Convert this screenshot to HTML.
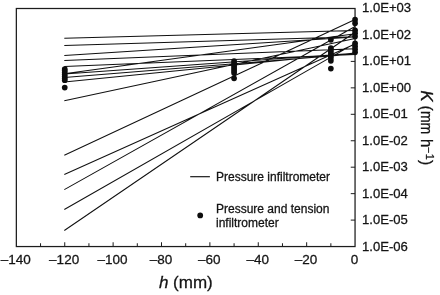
<!DOCTYPE html><html><head><meta charset="utf-8"><title>K vs h</title>
<style>html,body{margin:0;padding:0;background:#fff}svg{display:block}text{font-family:"Liberation Sans",Arial,Helvetica,sans-serif;fill:#141414;stroke:#141414;stroke-width:0.28px}</style></head><body>
<svg width="440" height="295" viewBox="0 0 440 295">
<rect width="440" height="295" fill="#fff"/>
<rect x="16.35" y="8.5" width="338.70" height="238.05" fill="none" stroke="#1c1c1c" stroke-width="1.25"/>
<path d="M40.54 246.55 v-3.3 M64.74 246.55 v-4.3 M88.93 246.55 v-3.3 M113.12 246.55 v-4.3 M137.31 246.55 v-3.3 M161.51 246.55 v-4.3 M185.70 246.55 v-3.3 M209.89 246.55 v-4.3 M234.09 246.55 v-3.3 M258.28 246.55 v-4.3 M282.47 246.55 v-3.3 M306.66 246.55 v-4.3 M330.86 246.55 v-3.3 M355.05 34.95 h-4.3 M355.05 61.40 h-4.3 M355.05 87.85 h-4.3 M355.05 114.30 h-4.3 M355.05 140.75 h-4.3 M355.05 167.20 h-4.3 M355.05 193.65 h-4.3 M355.05 220.10 h-4.3" stroke="#1c1c1c" stroke-width="1" fill="none"/>
<path d="M64.30 38.25 L355.05 30.5 M64.30 45.5 L355.05 36.8 M64.30 55.5 L355.05 37.1 M64.30 60.5 L355.05 48.8 M64.30 66.4 L355.05 54.5 M64.30 73.8 L355.05 33.7 M64.30 74.0 L355.05 53.2 M64.30 77.6 L355.05 54.0 M64.30 82.0 L355.05 52.9 M64.30 100.8 L355.05 38.6 M64.30 155.25 L355.05 19.5 M64.30 174.5 L355.05 44.1 M64.30 189.6 L355.05 26.5 M64.30 209.5 L355.05 43.4 M64.30 230.5 L355.05 32.3" stroke="#111" stroke-width="1.05" fill="none"/>
<circle cx="64.74" cy="69.1" r="2.85" fill="#0d0d0d"/>
<circle cx="64.74" cy="70.5" r="2.85" fill="#0d0d0d"/>
<circle cx="64.74" cy="72.5" r="2.85" fill="#0d0d0d"/>
<circle cx="64.74" cy="74.5" r="2.85" fill="#0d0d0d"/>
<circle cx="64.74" cy="76.5" r="2.85" fill="#0d0d0d"/>
<circle cx="64.74" cy="78.5" r="2.85" fill="#0d0d0d"/>
<circle cx="64.74" cy="80.2" r="2.85" fill="#0d0d0d"/>
<circle cx="64.74" cy="87.6" r="2.85" fill="#0d0d0d"/>
<circle cx="234.09" cy="61.1" r="2.85" fill="#0d0d0d"/>
<circle cx="234.09" cy="63" r="2.85" fill="#0d0d0d"/>
<circle cx="234.09" cy="65" r="2.85" fill="#0d0d0d"/>
<circle cx="234.09" cy="67" r="2.85" fill="#0d0d0d"/>
<circle cx="234.09" cy="69" r="2.85" fill="#0d0d0d"/>
<circle cx="234.09" cy="71" r="2.85" fill="#0d0d0d"/>
<circle cx="234.09" cy="73.1" r="2.85" fill="#0d0d0d"/>
<circle cx="234.09" cy="78.3" r="2.85" fill="#0d0d0d"/>
<circle cx="330.86" cy="39.8" r="2.85" fill="#0d0d0d"/>
<circle cx="330.86" cy="48.2" r="2.85" fill="#0d0d0d"/>
<circle cx="330.86" cy="50" r="2.85" fill="#0d0d0d"/>
<circle cx="330.86" cy="52" r="2.85" fill="#0d0d0d"/>
<circle cx="330.86" cy="54" r="2.85" fill="#0d0d0d"/>
<circle cx="330.86" cy="56" r="2.85" fill="#0d0d0d"/>
<circle cx="330.86" cy="58" r="2.85" fill="#0d0d0d"/>
<circle cx="330.86" cy="60.8" r="2.85" fill="#0d0d0d"/>
<circle cx="330.86" cy="68.6" r="2.85" fill="#0d0d0d"/>
<circle cx="355.05" cy="19.7" r="2.85" fill="#0d0d0d"/>
<circle cx="355.05" cy="23.2" r="2.85" fill="#0d0d0d"/>
<circle cx="355.05" cy="30.3" r="2.85" fill="#0d0d0d"/>
<circle cx="355.05" cy="33.2" r="2.85" fill="#0d0d0d"/>
<circle cx="355.05" cy="36.6" r="2.85" fill="#0d0d0d"/>
<circle cx="355.05" cy="43.3" r="2.85" fill="#0d0d0d"/>
<circle cx="355.05" cy="46.2" r="2.85" fill="#0d0d0d"/>
<circle cx="355.05" cy="49.2" r="2.85" fill="#0d0d0d"/>
<circle cx="355.05" cy="52.3" r="2.85" fill="#0d0d0d"/>
<text x="15.75" y="264.2" font-size="13.5" text-anchor="middle">–140</text>
<text x="64.14" y="264.2" font-size="13.5" text-anchor="middle">–120</text>
<text x="112.52" y="264.2" font-size="13.5" text-anchor="middle">–100</text>
<text x="160.91" y="264.2" font-size="13.5" text-anchor="middle">–80</text>
<text x="209.29" y="264.2" font-size="13.5" text-anchor="middle">–60</text>
<text x="257.68" y="264.2" font-size="13.5" text-anchor="middle">–40</text>
<text x="306.06" y="264.2" font-size="13.5" text-anchor="middle">–20</text>
<text x="354.45" y="264.2" font-size="13.5" text-anchor="middle">0</text>
<text x="362" y="12.35" font-size="13.1">1.0E+03</text>
<text x="362" y="38.85" font-size="13.1">1.0E+02</text>
<text x="362" y="65.35" font-size="13.1">1.0E+01</text>
<text x="362" y="91.85" font-size="13.1">1.0E+00</text>
<text x="362" y="118.35" font-size="13.1">1.0E-01</text>
<text x="362" y="144.85" font-size="13.1">1.0E-02</text>
<text x="362" y="171.35" font-size="13.1">1.0E-03</text>
<text x="362" y="197.85" font-size="13.1">1.0E-04</text>
<text x="362" y="224.35" font-size="13.1">1.0E-05</text>
<text x="362" y="250.85" font-size="13.1">1.0E-06</text>
<text x="158.9" y="287.5" font-size="17"><tspan font-style="italic">h</tspan> (mm)</text>
<g transform="translate(420.5,0) rotate(90)" font-size="15.9"><text x="90.6" y="0" font-style="italic" transform="translate(90.6,0) scale(1.05,1) translate(-90.6,0)">K</text><text x="105.5" y="0">(</text><text transform="translate(110.9,0) scale(0.88,1)" x="0" y="0">mm</text><text transform="translate(139,0) scale(0.93,1)" x="0" y="0">h</text><text x="146.7" y="-4.2" font-size="10.7">−</text><text x="153.7" y="-5.1" font-size="10.7">1</text><text x="159.9" y="0">)</text></g>
<path d="M190.2 176.7 H209.9" stroke="#111" stroke-width="1.15"/>
<circle cx="200.2" cy="215.4" r="2.85" fill="#0d0d0d"/>
<text x="216" y="181.0" font-size="12">Pressure infiltrometer</text>
<text x="216" y="212.8" font-size="12">Pressure and tension</text>
<text x="216" y="227.0" font-size="12">infiltrometer</text>
</svg></body></html>
